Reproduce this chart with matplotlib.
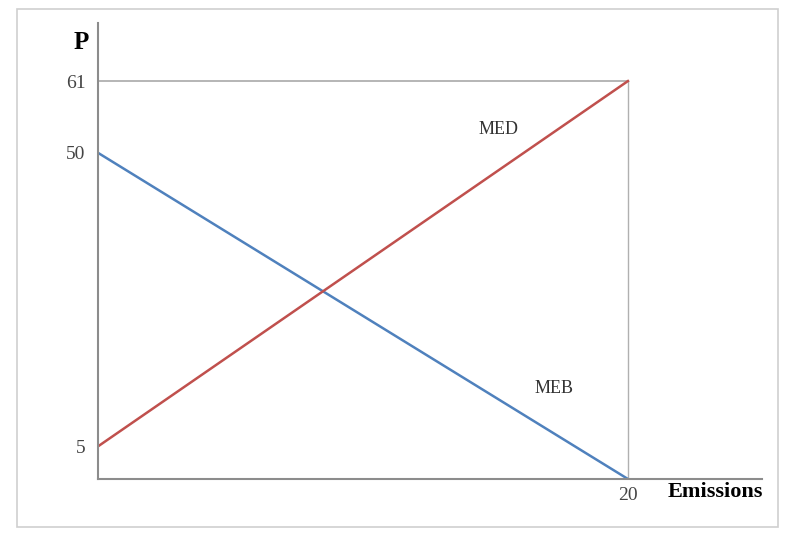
import matplotlib.pyplot as plt
from matplotlib.patches import Rectangle

emissions = [0, 20]
meb = [50, 0]
med = [5, 61]
y_ticks = [5, 50, 61]
x_ticks = [20]

plt.rcParams['font.family'] = ['Liberation Serif', 'DejaVu Serif']

fig = plt.figure(figsize=(7.87, 5.41), dpi=100)
W, H = 787, 541

# light frame round the whole picture
fig.patches.append(Rectangle((17 / W, 1 - 527 / H), (778 - 17) / W, (527 - 9) / H,
                             transform=fig.transFigure, fill=False,
                             edgecolor='#cfcfcf', lw=1.2))

ax = fig.add_axes([98 / W, 1 - 479 / H, (762 - 98) / W, (479 - 23) / H])
ax.set_xlim(0, 25.06)
ax.set_ylim(0, 69.9)
for s in ['top', 'right']:
    ax.spines[s].set_visible(False)
for s in ['left', 'bottom']:
    ax.spines[s].set_color('#8c8c8c')
    ax.spines[s].set_linewidth(1.5)

# gray guide lines at the top-right corner
ax.plot([0, emissions[-1]], [med[-1], med[-1]], color='#b0b0b0', lw=1.3)
ax.plot([emissions[-1], emissions[-1]], [0, med[-1]], color='#b0b0b0', lw=1.0)

ax.plot(emissions, meb, color='#4f81bd', lw=1.8)
ax.plot(emissions, med, color='#c0504d', lw=1.8)

ax.set_xticks(x_ticks)
ax.set_yticks(y_ticks)
ax.tick_params(length=0, labelsize=14, colors='#444444')
ax.tick_params(axis='y', pad=9)
ax.tick_params(axis='x', pad=6)

ax.text(15.1, 53.5, 'MED', fontsize=13, color='#333333', ha='center', va='center')
ax.text(17.2, 13.9, 'MEB', fontsize=13, color='#333333', ha='center', va='center')

ax.text(-0.65, 66.9, 'P', fontsize=18, fontweight='bold', ha='center', va='center',
        clip_on=False)
ax.text(23.3, -2.0, 'Emissions', fontsize=16, fontweight='bold', ha='center', va='center',
        clip_on=False)

fig.savefig('out.png', dpi=100)
